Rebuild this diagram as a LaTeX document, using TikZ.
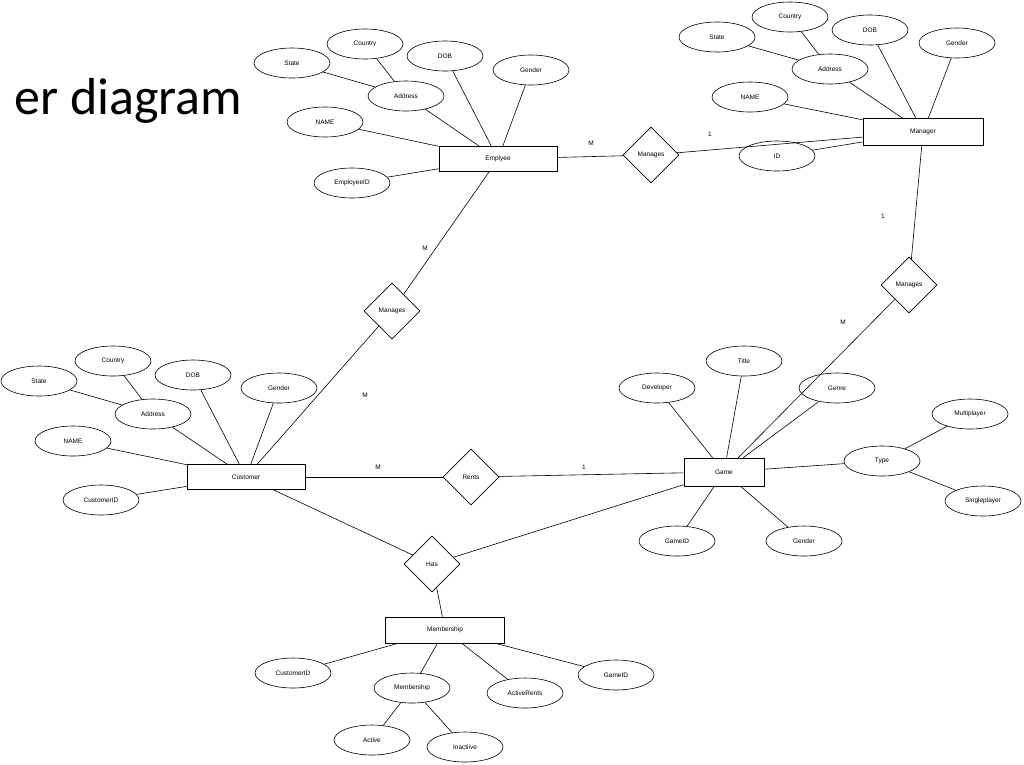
\documentclass[tikz,border=0pt]{standalone}
\usepackage{fontspec}
\setmainfont{Liberation Sans}
\newfontfamily\titlefont{Carlito}
\usetikzlibrary{shapes.geometric}
\begin{document}
\begin{tikzpicture}[x=1pt,y=-1pt,
 attr/.style={draw,ellipse,minimum width=76pt,minimum height=30pt,inner sep=0pt,font=\fontsize{6.5}{7}\selectfont,fill=white},
 ent/.style={draw,rectangle,minimum width=118pt,minimum height=25pt,inner sep=0pt,font=\fontsize{6.5}{7}\selectfont,fill=white},
 rel/.style={draw,diamond,minimum width=56pt,minimum height=56pt,inner sep=0pt,font=\fontsize{6.5}{7}\selectfont,fill=white,aspect=1},
 card/.style={font=\fontsize{6.5}{7}\selectfont},
 every path/.style={line width=0.6pt}]
\useasboundingbox (0,0) rectangle (1024,764);
\node[font=\titlefont\fontsize{52}{56}\selectfont,anchor=west,inner sep=0pt] (title) at (14,101) {er diagram};
% Employee
\node[ent] (emp) at (498,159) {Emplyee};
\node[attr] (es) at (292,63) {State};
\node[attr] (ec) at (365,44) {Country};
\node[attr] (ed) at (445,56) {DOB};
\node[attr] (eg) at (531,70) {Gender};
\node[attr] (ea) at (406,96) {Address};
\node[attr] (en) at (325,122) {NAME};
\node[attr] (eid) at (352,183) {EmployeeID};
% Manager
\node[ent,minimum width=120pt,minimum height=27pt] (mgr) at (923,132) {Manager};
\node[attr] (mid) at (777,156) {ID};
\node[attr] (mn) at (750,97) {NAME};
\node[attr] (ms) at (717,37) {State};
\node[attr] (mc) at (790,17) {Country};
\node[attr] (md) at (870,30) {DOB};
\node[attr] (mg) at (957,43) {Gender};
\node[attr] (ma) at (830,69) {Address};
\node[rel] (r1) at (651,155) {Manages};
\node[rel] (r2) at (909,285) {Manages};
\node[rel] (r3) at (392,311) {Manages};
% Customer
\node[ent] (cus) at (246,477) {Customer};
\node[attr] (cc) at (113,361) {Country};
\node[attr] (cs) at (39,381) {State};
\node[attr] (cd) at (193,375) {DOB};
\node[attr] (cg) at (279,388) {Gender};
\node[attr] (ca) at (153,414) {Address};
\node[attr] (cn) at (73,441) {NAME};
\node[attr] (cid) at (101,500) {CustomerID};
\node[rel] (rents) at (471,477) {Rents};
% Game
\node[ent,minimum width=80pt,minimum height=28pt] (game) at (724,472) {Game};
\node[attr] (gdev) at (657,388) {Developer};
\node[attr] (gt) at (744,361) {Title};
\node[attr] (gge) at (837,388) {Genre};
\node[attr] (gty) at (882,461) {Type};
\node[attr] (gm) at (970,414) {Multiplayer};
\node[attr] (gs) at (983,501) {Singleplayer};
\node[attr] (gid) at (677,541) {GameID};
\node[attr] (ggd) at (804,541) {Gender};
\node[rel] (has) at (432,564) {Has};
% Membership
\node[ent,minimum width=119pt,minimum height=26pt] (mem) at (445,630) {Membership};
\node[attr] (mcid) at (293,673) {CustomerID};
\node[attr] (mm) at (412,688) {Membership};
\node[attr] (mar) at (525,693) {ActiveRents};
\node[attr] (mgid) at (616,675) {GameID};
\node[attr] (mact) at (372,740) {Active};
\node[attr] (mina) at (465,747) {Inactiive};
% edges
\draw (es)--(ea); \draw (ec)--(ea); \draw (ea)--(emp); \draw (ed)--(emp); \draw (eg)--(emp); \draw (en)--(emp); \draw (eid)--(emp);
\draw (emp)--(r1); \draw (r1)--(mgr);
\draw (ms)--(ma); \draw (mc)--(ma); \draw (ma)--(mgr); \draw (md)--(mgr); \draw (mg)--(mgr); \draw (mn)--(mgr); \draw (mid)--(mgr);
\draw (mgr)--(r2); \draw (r2)--(game);
\draw (emp)--(r3); \draw (r3)--(cus);
\draw (cs)--(ca); \draw (cc)--(ca); \draw (ca)--(cus); \draw (cd)--(cus); \draw (cg)--(cus); \draw (cn)--(cus); \draw (cid)--(cus);
\draw (cus)--(rents); \draw (rents)--(game);
\draw (gdev)--(game); \draw (gt)--(game); \draw (gge)--(game); \draw (gty)--(game); \draw (gty)--(gm); \draw (gty)--(gs); \draw (gid)--(game); \draw (ggd)--(game);
\draw (cus)--(has); \draw (game)--(has); \draw (has)--(mem);
\draw (mem)--(mcid); \draw (mem)--(mm); \draw (mem)--(mar); \draw (mem)--(mgid); \draw (mm)--(mact); \draw (mm)--(mina);
% cardinalities
\node[card] (c1) at (591,143) {M};
\node[card] (c2) at (710,134) {1};
\node[card] (c3) at (883,216) {1};
\node[card] (c4) at (843,322) {M};
\node[card] (c5) at (425,248) {M};
\node[card] (c6) at (365,395) {M};
\node[card] (c7) at (378,467) {M};
\node[card] (c8) at (584,467) {1};
\end{tikzpicture}
\end{document}
